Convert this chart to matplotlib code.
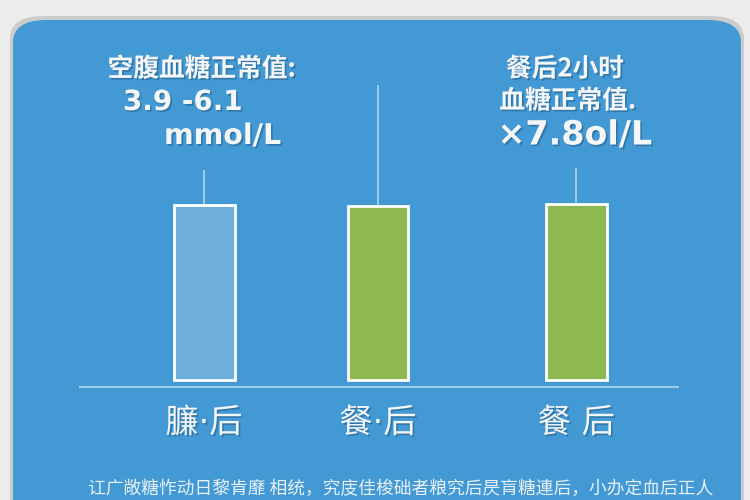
import matplotlib
matplotlib.use("Agg")
import matplotlib.pyplot as plt
from matplotlib.patches import FancyBboxPatch
import matplotlib.patheffects as pe

plt.rcParams['font.family'] = ['Noto Sans CJK SC', 'DejaVu Sans']

# ---- data ----
categories = ["臁·后", "餐·后", "餐 后"]
bar_values = [7.0, 6.96, 7.04]          # bar heights (arbitrary units)
whisker_tops = [8.4, 11.8, 8.5]         # thin line tops
x_pos = [0.0, 1.0, 2.14]
bar_colors = ["#6eaed8", "#8db852", "#8db852"]
left_title = "空腹血糖正常值:"
left_range = "3.9 -6.1"
left_unit = "mmol/L"
right_title1 = "餐后2小时"
right_title2 = "血糖正常值."
right_value = "×7.8ol/L"
footer = "讧广敞糖怍动日黎肯靡 相统，究庋佳梭础者粮究后昃肓糖連后，小办定血后正人"

BLUE = "#4399d3"
fig = plt.figure(figsize=(7.5, 5), dpi=100)
fig.patch.set_facecolor("#ececec")

# shadow + panel
shadow = FancyBboxPatch((10/750, -0.1), 734/750, (484+50)/500,
                        boxstyle="round,pad=0,rounding_size=0.045",
                        transform=fig.transFigure, facecolor="#b8b8b8",
                        edgecolor="none", alpha=0.6, zorder=-2)
fig.patches.append(shadow)
panel = FancyBboxPatch((13/750, -0.1), 728/750, (484+50)/500 - 0.008,
                       boxstyle="round,pad=0,rounding_size=0.045",
                       transform=fig.transFigure, facecolor=BLUE,
                       edgecolor="none", zorder=-1)
fig.patches.append(panel)

ax = fig.add_axes([80/750, 1-387/500, 598/750, 327/500])
ax.set_zorder(5)
ax.set_facecolor("none")
ax.set_xlim(-0.713, 2.724)
ax.set_ylim(-0.28, 12.8)
for s in ["top", "right", "left"]:
    ax.spines[s].set_visible(False)
ax.spines["bottom"].set_color("#9ccbea")
ax.spines["bottom"].set_linewidth(1.5)
ax.set_xticks([])
ax.set_yticks([])

ax.vlines(x_pos, bar_values, whisker_tops, colors="#a8d0ec", linewidth=1.3, zorder=2)
ax.bar(x_pos, bar_values, width=0.35, color=bar_colors, edgecolor="white",
       linewidth=2.0, zorder=3)

shadow_fx = [pe.withSimplePatchShadow(offset=(1.2, -1.2), shadow_rgbFace="#2a6a99", alpha=0.7)]
tc = "#f4f6f8"
fig.text(202/750, 1-69/500, left_title, ha="center", va="center", fontsize=18.5,
         fontweight="bold", color=tc, path_effects=shadow_fx, zorder=6)
fig.text(123/750, 1-102/500, left_range, ha="left", va="center", fontsize=20,
         fontweight="bold", color=tc, path_effects=shadow_fx, family="DejaVu Sans", zorder=6)
fig.text(164/750, 1-136/500, left_unit, ha="left", va="center", fontsize=20.5,
         fontweight="bold", color=tc, path_effects=shadow_fx, family="DejaVu Sans", zorder=6)
fig.text(565/750, 1-69/500, right_title1, ha="center", va="center", fontsize=18.5,
         fontweight="bold", color=tc, path_effects=shadow_fx, zorder=6)
fig.text(568/750, 1-101/500, right_title2, ha="center", va="center", fontsize=18.5,
         fontweight="bold", color=tc, path_effects=shadow_fx, zorder=6)
fig.text(575/750, 1-135/500, right_value, ha="center", va="center", fontsize=24,
         fontweight="bold", color=tc, path_effects=shadow_fx, family="DejaVu Sans", zorder=6)

for x, lab in zip(x_pos, categories):
    ax.annotate(lab, xy=(x, 0), xycoords="data", xytext=(0, -31),
                textcoords="offset points", ha="center", va="center",
                fontsize=24, color=tc, path_effects=shadow_fx, annotation_clip=False,
                family=['DejaVu Sans', 'Noto Sans CJK SC'])

fig.text(401/750, 1-489/500, footer, ha="center", va="center", fontsize=12.8,
         color="#e8f1f8", zorder=6)

fig.savefig("out.png", dpi=100, facecolor=fig.get_facecolor())
